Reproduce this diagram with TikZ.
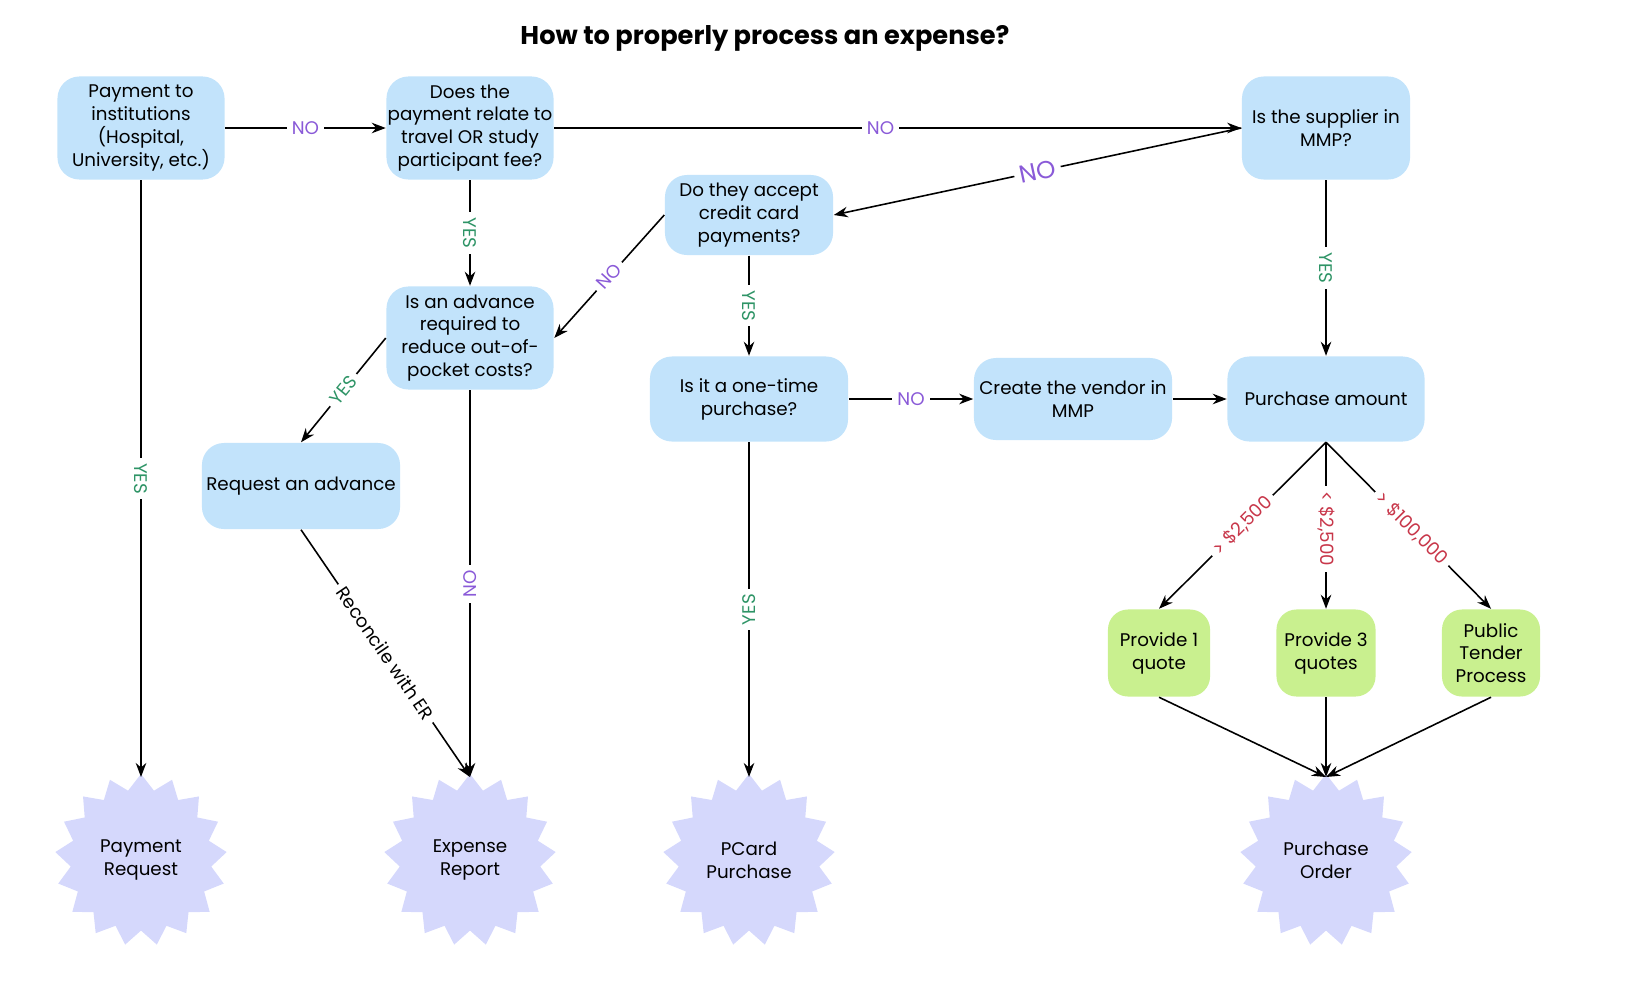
\documentclass[tikz,border=0pt]{standalone}
\usepackage{fontspec}
\setmainfont{Poppins}
\usetikzlibrary{shapes.geometric,arrows.meta}
\definecolor{bx}{HTML}{C2E3FB}
\definecolor{gx}{HTML}{C9F08F}
\definecolor{sx}{HTML}{D5D8FC}
\definecolor{pno}{HTML}{8A5AD8}
\definecolor{gyes}{HTML}{2E9466}
\definecolor{rd}{HTML}{C8374A}
\begin{document}
\begin{tikzpicture}[x=0.01cm,y=-0.01cm,
  font=\fontsize{5.2}{6.5}\selectfont,
  box/.style={fill=bx,rounded corners=0.22cm,align=center,inner sep=0pt},
  gbox/.style={fill=gx,rounded corners=0.2cm,align=center,inner sep=0pt,minimum width=1cm,minimum height=0.87cm},
  st/.style={star,star points=17,star point ratio=1.22,fill=sx,minimum size=1.72cm,inner sep=0pt,align=center},
  ar/.style={-{Stealth[length=4pt,width=3pt]},line width=0.45pt},
  no/.style={text=pno,fill=white,inner sep=1.5pt},
  yes/.style={text=gyes,fill=white,inner sep=1.5pt},
  lab/.style={text=rd,fill=white,inner sep=1.5pt}]
\path[use as bounding box] (0,0) rectangle (1640,1000);
\node[font=\fontsize{7.3}{9}\selectfont\bfseries] (t) at (765,38) {How to properly process an expense?};
\node[box,minimum width=1.67cm,minimum height=1.03cm] (A) at (141,128) {Payment to\\institutions\\(Hospital,\\University, etc.)};
\node[box,minimum width=1.67cm,minimum height=1.03cm] (B) at (470,128) {Does the\\payment relate to\\travel OR study\\participant fee?};
\node[box,minimum width=1.68cm,minimum height=1.03cm] (C) at (1326,128) {Is the supplier in\\MMP?};
\node[box,minimum width=1.68cm,minimum height=0.8cm] (D) at (749,215) {Do they accept\\credit card\\payments?};
\node[box,minimum width=1.67cm,minimum height=1.03cm] (E) at (470,338) {Is an advance\\required to\\reduce out-of-\\pocket costs?};
\node[box,minimum width=1.98cm,minimum height=0.86cm] (F) at (301,486) {Request an advance};
\node[box,minimum width=1.98cm,minimum height=0.85cm] (G) at (749,399) {Is it a one-time\\purchase?};
\node[box,minimum width=1.98cm,minimum height=0.82cm] (H) at (1073,399) {Create the vendor in\\MMP};
\node[box,minimum width=1.97cm,minimum height=0.85cm] (I) at (1326,399) {Purchase amount};
\node[gbox,minimum width=1.02cm] (J) at (1159,653) {Provide 1\\quote};
\node[gbox,minimum width=0.99cm] (K) at (1326,653) {Provide 3\\quotes};
\node[gbox,minimum width=0.98cm] (L) at (1491,653) {Public\\Tender\\Process};
\node[st] (S1) at (141,860) {Payment\\Request};
\node[st] (S2) at (470,860) {Expense\\Report};
\node[st] (S3) at (749,860) {PCard\\Purchase};
\node[st] (S4) at (1326,860) {Purchase\\Order};
\coordinate (s1t) at (141,777);
\coordinate (s2t) at (470,777);
\coordinate (s3t) at (749,777);
\coordinate (s4t) at (1326,777);
\draw[ar] (A) -- node[no]{NO} (B);
\draw[ar] (B) -- node[no,pos=0.475]{NO} (C);
\draw[ar] (C.west) -- node[no,sloped,pos=0.5,font=\fontsize{7}{8}\selectfont]{NO} (D.east);
\draw[ar] (B) -- node[yes,rotate=-90]{YES} (E);
\draw[ar] (D.west) -- node[no,sloped,pos=0.5]{NO} (E.east);
\draw[ar] (E.west) -- node[yes,sloped]{YES} (F.north);
\draw[ar] (E) -- node[no,rotate=90]{NO} (s2t);
\draw[ar] (F.south) -- node[sloped,fill=white,inner sep=1.5pt,pos=0.5]{Reconcile with ER} (s2t);
\draw[ar] (A) -- node[yes,rotate=-90]{YES} (s1t);
\draw[ar] (D) -- node[yes,rotate=-90]{YES} (G);
\draw[ar] (G) -- node[no,pos=0.5]{NO} (H);
\draw[ar] (H) -- (I);
\draw[ar] (C) -- node[yes,rotate=-90]{YES} (I);
\draw[ar] (G) -- node[yes,rotate=90]{YES} (s3t);
\draw[ar] (I.south) -- node[lab,sloped]{> \$2,500} (J.north);
\draw[ar] (I.south) -- node[lab,rotate=-90,pos=0.52]{< \$2,500} (K.north);
\draw[ar] (I.south) -- node[lab,sloped,pos=0.52]{> \$100,000} (L.north);
\draw[ar] (J.south) -- (s4t);
\draw[ar] (K.south) -- (s4t);
\draw[ar] (L.south) -- (s4t);
\end{tikzpicture}
\end{document}
